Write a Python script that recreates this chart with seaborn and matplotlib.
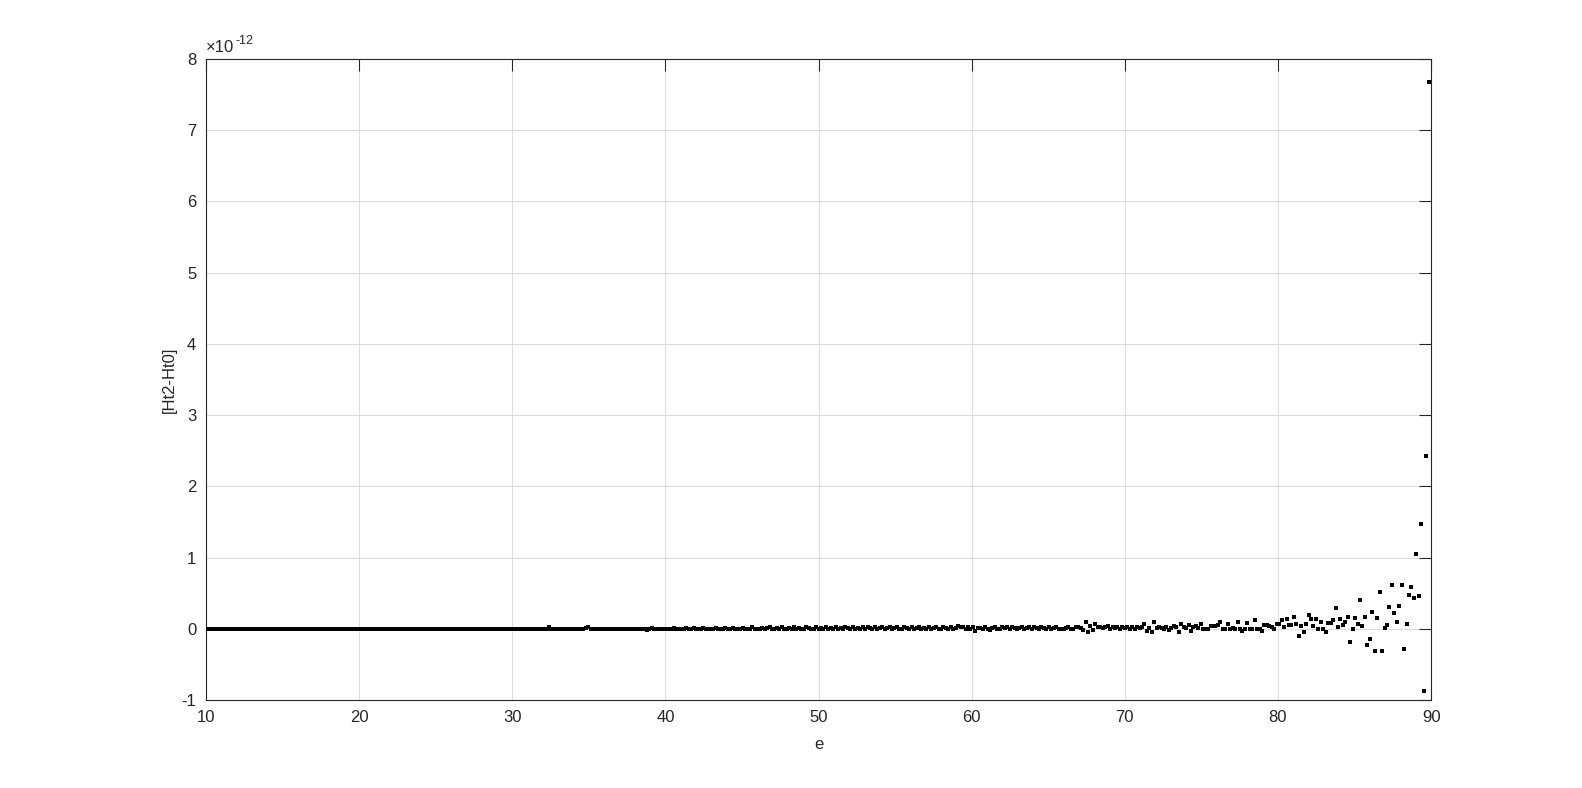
import matplotlib
matplotlib.use('Agg')
import matplotlib.pyplot as plt
import matplotlib.ticker as mticker
import seaborn as sns
import pandas as pd
import numpy as np

# e grid (501 samples from 10 to 90)
e_values = np.linspace(10, 90, 501)

# [Ht2-Ht0] values, in units of 1e-12
flat_part = [0.0] * 137  # e = 10 ... 31.8, all on zero

early_noise = [
    0, 0, 0, 0.02, 0, 0, 0, 0, 0, 0,
    0, 0, 0, 0, 0, 0, 0, 0, 0.01, 0.02,
    -0.01, 0, 0, 0, 0, 0, 0, 0, 0, 0,
    0, 0, 0, 0, 0, 0, 0, 0, 0, 0,
    0, 0, -0.01, -0.02, 0, 0.01, 0, 0, 0, 0,
    0,
]

mid_noise = [
    0, -0.01, 0, 0.01, 0, 0, -0.01, 0, 0.01, 0,
    0, 0.01, -0.01, 0, 0, 0.01, 0, -0.01, 0, 0,
    0.01, 0, 0, -0.01, 0.01, 0, 0, 0.01, -0.01, 0,
    0, 0.01, 0, -0.01, 0, 0.02, 0, 0, -0.01, 0.01,
    0, 0.01, 0.02, 0, -0.01, 0.01, 0, 0.02, 0, -0.01,
    0.01, 0, 0.02, 0, 0.01, -0.01, 0, 0.02, 0.01, 0,
    -0.01, 0.02, 0, 0.01, 0, 0.02, -0.01, 0.01, 0, 0.02,
    0, 0.01, -0.01, 0.02, 0.01, 0, 0.02, -0.01, 0.01, 0,
    0.02, 0, 0.03, 0.01, -0.01, 0.02, 0, 0.01, 0.02, -0.01,
    0.01, 0.02, 0, 0.01, 0.03, 0, -0.01, 0.02, 0.01, 0,
    0.02, -0.01, 0.01, 0.03, 0, 0.01, -0.01, 0.02, 0, 0.01,
    0.02, 0, -0.01, 0.03, 0.01, 0, 0.02, -0.01, 0.01, 0.04,
    0.02, 0.03, -0.01, 0.02, 0, 0.03, -0.03, 0.01,
]

late_noise = [
    0.01, -0.01, 0.02, 0, -0.02, 0.01, 0.02, 0, -0.01, 0.02,
    0.01, 0.02, 0, 0.02, 0.01, -0.01, 0.01, 0.02, 0, 0.01,
    0.02, -0.01, 0.02, 0.01, 0, 0.02, 0.01, -0.01, 0.02, 0,
    0.01, 0.02, 0, 0, -0.01, 0.01, 0.02, -0.01, 0, 0.02,
    0.03, 0.01, -0.02, 0.09, -0.04, 0.04, -0.02, 0.06, 0.02, 0.03,
    0.01, 0.02, 0.04, 0, 0.02, 0.01, 0.03, 0, 0.02, 0.01,
    0.02, 0, 0.02, -0.01, 0.02, 0.01, 0.03, 0.06, -0.03, 0.01,
    -0.05, 0.09, 0.01, 0.02, 0.01, 0, 0.02, -0.02, 0.01, 0.04,
    0.02, -0.05, 0.06, 0.03, 0.01, 0.05, -0.03, 0.02, 0.04, 0.01,
]

tail_values = [
    0.07, 0, 0, -0.01, 0.04, 0.04, 0.04, 0.05, 0.10, -0.01,
    -0.01, 0.06, -0.01, 0.01, 0, 0.09, 0, -0.03, -0.01, 0.08,
    -0.01, 0, 0.12, -0.01, -0.01, -0.03, 0.05, 0.05, 0.04, 0.03,
    0, 0.06, 0.07, 0.12, 0.02, 0.14, 0.05, 0.05, 0.16, 0.06,
    -0.10, 0.04, -0.05, 0.07, 0.20, 0.13, 0.04, 0.14, 0, 0.10,
    0, -0.05, 0.08, 0.08, 0.12, 0.29, 0.03, 0.13, 0.05, 0.09,
    0.17, -0.18, 0, 0.15, 0.06, 0.41, 0.04, 0.16, -0.23, -0.14,
    0.24, -0.31, 0.15, 0.52, -0.31, 0.01, 0.05, 0.31, 0.61, 0.22,
    0.10, 0.32, 0.61, -0.29, 0.07, 0.48, 0.58, 0.43, 1.05, 0.46,
    1.47, -0.87, 2.43, 7.68,
]

x_ticks = [10, 20, 30, 40, 50, 60, 70, 80, 90]
y_ticks = [-1, 0, 1, 2, 3, 4, 5, 6, 7, 8]

dh = np.array(flat_part + early_noise + mid_noise + late_noise + tail_values) * 1e-12
e_used = e_values[:len(dh)]
df = pd.DataFrame({'e': e_used, 'dH': dh})

sns.set_style('white')
plt.rcParams['font.family'] = ['Liberation Sans', 'DejaVu Sans']
plt.rcParams['axes.unicode_minus'] = False

axis_color = '#262626'

fig = plt.figure(figsize=(15.82, 7.88), dpi=100)
ax = fig.add_axes([0.1302, 0.1117, 0.7744, 0.8135])

sns.scatterplot(data=df, x='e', y='dH', marker='s', s=7, color='black',
                linewidth=0, ax=ax, zorder=3)

ax.set_xlim(10, 90)
ax.set_ylim(-1e-12, 8e-12)
ax.set_xticks(x_ticks)
ax.set_yticks([v * 1e-12 for v in y_ticks])
ax.yaxis.set_major_formatter(mticker.FuncFormatter(lambda v, pos: f'{v * 1e12:g}'))

# exponent label, MATLAB style
ax.text(0.0, 1.006, '\u00d710', transform=ax.transAxes, fontsize=12,
        color=axis_color, ha='left', va='bottom')
ax.text(0.0245, 1.019, '-12', transform=ax.transAxes, fontsize=9,
        color=axis_color, ha='left', va='bottom')

ax.grid(True, color='#dcdcdc', linewidth=0.7)
ax.set_axisbelow(True)

for side in ['top', 'bottom', 'left', 'right']:
    ax.spines[side].set_visible(True)
    ax.spines[side].set_color(axis_color)
    ax.spines[side].set_linewidth(0.8)

ax.tick_params(axis='both', direction='in', length=8.5, width=0.8,
               color=axis_color, labelcolor=axis_color, labelsize=12,
               top=True, right=True, pad=7)

ax.set_xlabel('e', fontsize=12, color=axis_color, labelpad=9)
ax.set_ylabel('[Ht2-Ht0]', fontsize=12, color=axis_color, labelpad=3)

fig.savefig('out.png', dpi=100)
plt.close(fig)
